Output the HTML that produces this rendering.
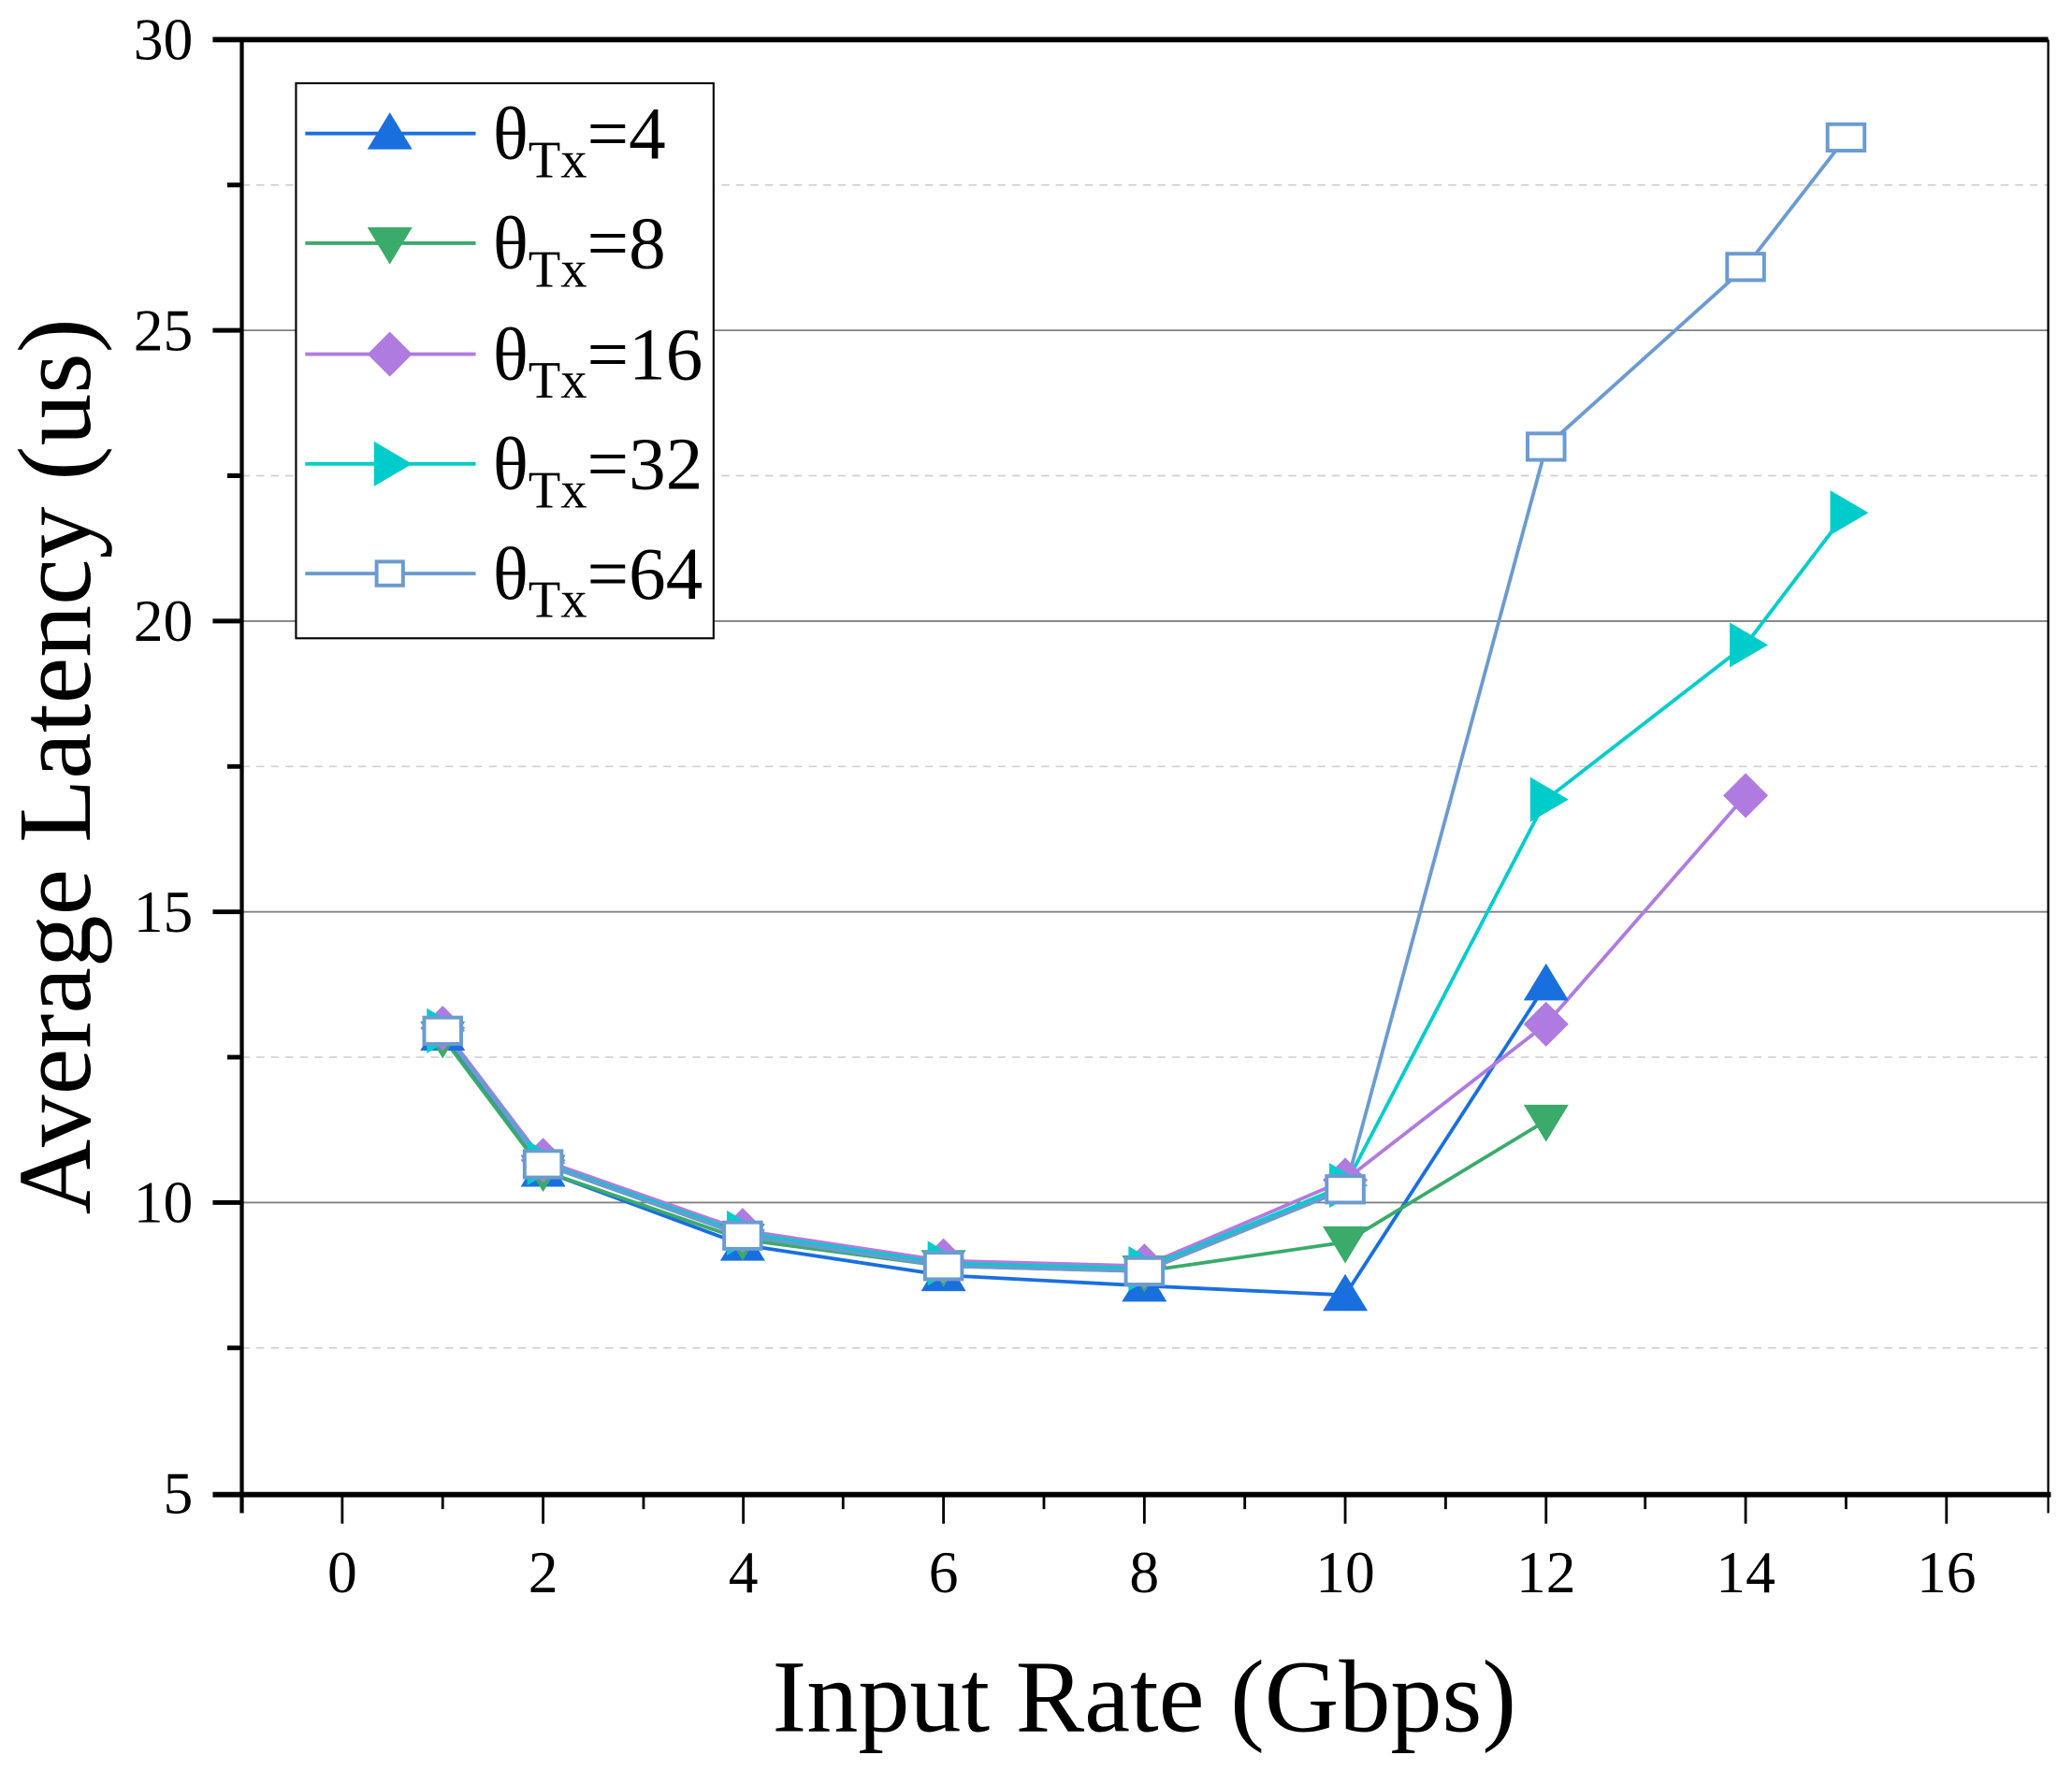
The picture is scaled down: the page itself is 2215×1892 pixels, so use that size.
<!DOCTYPE html>
<html><head><meta charset="utf-8"><style>
html,body{margin:0;padding:0;background:#fff;}
svg{display:block;}
text{font-family:"Liberation Serif",serif;fill:#000;}
</style></head><body>
<svg width="2215" height="1892" viewBox="0 0 1568 1339.4" preserveAspectRatio="none" xmlns="http://www.w3.org/2000/svg">
<defs>
<path id="tu" d="M0,-16 L17,12 L-17,12 Z"/>
<path id="td" d="M0,16 L17,-12 L-17,-12 Z"/>
<path id="dm" d="M0,-17 L17,0 L0,17 L-17,0 Z"/>
<path id="tr" d="M17,0 L-12,-17 L-12,17 Z"/>
<rect id="sq" x="-14" y="-10" width="28" height="20" fill="#fff" stroke="#6b9bd0" stroke-width="2.8"/>
</defs>
<g stroke="#d0d0d0" stroke-width="1.2" stroke-dasharray="6,5">
<line x1="183" x2="1550" y1="140" y2="140"/>
<line x1="183" x2="1550" y1="360" y2="360"/>
<line x1="183" x2="1550" y1="580" y2="580"/>
<line x1="183" x2="1550" y1="800" y2="800"/>
<line x1="183" x2="1550" y1="1020" y2="1020"/>
</g>
<g stroke="#808080" stroke-width="1.3">
<line x1="183" x2="1550" y1="250" y2="250"/>
<line x1="183" x2="1550" y1="470" y2="470"/>
<line x1="183" x2="1550" y1="690" y2="690"/>
<line x1="183" x2="1550" y1="910" y2="910"/>
</g>
<line x1="161" x2="1550" y1="30" y2="30" stroke="#000" stroke-width="4"/>
<line x1="161" x2="1552" y1="1131" y2="1131" stroke="#000" stroke-width="4"/>
<line x1="183" x2="183" y1="30" y2="1145" stroke="#000" stroke-width="3"/>
<line x1="1550" x2="1550" y1="30" y2="1145" stroke="#000" stroke-width="1.6"/>
<g stroke="#000" stroke-width="3.5">
<line x1="161" x2="183" y1="250" y2="250"/><line x1="161" x2="183" y1="470" y2="470"/>
<line x1="161" x2="183" y1="690" y2="690"/><line x1="161" x2="183" y1="910" y2="910"/>
<line x1="172" x2="183" y1="140" y2="140"/><line x1="172" x2="183" y1="360" y2="360"/>
<line x1="172" x2="183" y1="580" y2="580"/><line x1="172" x2="183" y1="800" y2="800"/>
<line x1="172" x2="183" y1="1020" y2="1020"/>
</g>
<g stroke="#000" stroke-width="2">
<line x1="259" x2="259" y1="1131" y2="1153"/><line x1="411" x2="411" y1="1131" y2="1153"/>
<line x1="562.5" x2="562.5" y1="1131" y2="1153"/><line x1="714" x2="714" y1="1131" y2="1153"/>
<line x1="866" x2="866" y1="1131" y2="1153"/><line x1="1018" x2="1018" y1="1131" y2="1153"/>
<line x1="1170" x2="1170" y1="1131" y2="1153"/><line x1="1321" x2="1321" y1="1131" y2="1153"/>
<line x1="1473" x2="1473" y1="1131" y2="1153"/>
<line x1="335" x2="335" y1="1131" y2="1142"/><line x1="487" x2="487" y1="1131" y2="1142"/>
<line x1="638" x2="638" y1="1131" y2="1142"/><line x1="790" x2="790" y1="1131" y2="1142"/>
<line x1="942" x2="942" y1="1131" y2="1142"/><line x1="1094" x2="1094" y1="1131" y2="1142"/>
<line x1="1245" x2="1245" y1="1131" y2="1142"/><line x1="1397" x2="1397" y1="1131" y2="1142"/>
</g>
<g font-size="45" text-anchor="end">
<text x="146" y="45">30</text><text x="146" y="265">25</text><text x="146" y="485">20</text>
<text x="146" y="705">15</text><text x="146" y="925">10</text><text x="146" y="1145">5</text>
</g>
<g font-size="45" text-anchor="middle">
<text x="259" y="1205">0</text><text x="411" y="1205">2</text><text x="562.5" y="1205">4</text>
<text x="714" y="1205">6</text><text x="866" y="1205">8</text><text x="1018" y="1205">10</text>
<text x="1170" y="1205">12</text><text x="1321" y="1205">14</text><text x="1473" y="1205">16</text>
</g>
<text x="866" y="1310" font-size="78" text-anchor="middle">Input Rate (Gbps)</text>
<text transform="translate(68,580) rotate(-90)" font-size="79" text-anchor="middle">Average Latency (us)</text>
<g fill="none" stroke-width="2.7" stroke-linejoin="round">
<polyline stroke="#1a6fdf" points="335,783 411,886 562,942 714,965 866,973 1018,980 1170,745"/>
<polyline stroke="#3aab6a" points="335,785 411,886 562,938 714,958 866,962 1018,940 1170,848"/>
<polyline stroke="#b07be0" points="335,778 411,878 562,931 714,954 866,958 1018,893 1170,775 1321,602"/>
<polyline stroke="#00cccc" points="335,780 411,880 562,933 714,956 866,960 1018,897 1170,605 1321,488 1397,388"/>
<polyline stroke="#6b9bd0" points="335,780 411,881 562,935 714,958 866,962 1018,900 1170,338 1321,202 1397,104"/>
</g>
<g fill="#1a6fdf">
<use href="#tu" x="335" y="783"/><use href="#tu" x="411" y="886"/><use href="#tu" x="562" y="942"/>
<use href="#tu" x="714" y="965"/><use href="#tu" x="866" y="973"/><use href="#tu" x="1018" y="980"/><use href="#tu" x="1170" y="745"/>
</g>
<g fill="#3aab6a">
<use href="#td" x="335" y="785"/><use href="#td" x="411" y="886"/><use href="#td" x="562" y="938"/>
<use href="#td" x="714" y="958"/><use href="#td" x="866" y="962"/><use href="#td" x="1018" y="940"/><use href="#td" x="1170" y="848"/>
</g>
<g fill="#b07be0">
<use href="#dm" x="335" y="778"/><use href="#dm" x="411" y="878"/><use href="#dm" x="562" y="931"/>
<use href="#dm" x="714" y="954"/><use href="#dm" x="866" y="958"/><use href="#dm" x="1018" y="893"/><use href="#dm" x="1170" y="775"/><use href="#dm" x="1321" y="602"/>
</g>
<g fill="#00cccc">
<use href="#tr" x="335" y="780"/><use href="#tr" x="411" y="880"/><use href="#tr" x="562" y="933"/>
<use href="#tr" x="714" y="956"/><use href="#tr" x="866" y="960"/><use href="#tr" x="1018" y="897"/><use href="#tr" x="1170" y="605"/><use href="#tr" x="1321" y="488"/><use href="#tr" x="1397" y="388"/>
</g>
<g>
<use href="#sq" x="335" y="780"/><use href="#sq" x="411" y="881"/><use href="#sq" x="562" y="935"/>
<use href="#sq" x="714" y="958"/><use href="#sq" x="866" y="962"/><use href="#sq" x="1018" y="900"/><use href="#sq" x="1170" y="338"/><use href="#sq" x="1321" y="202"/><use href="#sq" x="1397" y="104"/>
</g>
<rect x="224" y="63" width="316" height="420" fill="#fff" stroke="#000" stroke-width="1.5"/>
<g stroke-width="2.7">
<line x1="231" x2="360" y1="101" y2="101" stroke="#1a6fdf"/>
<line x1="231" x2="360" y1="184" y2="184" stroke="#3aab6a"/>
<line x1="231" x2="360" y1="268" y2="268" stroke="#b07be0"/>
<line x1="231" x2="360" y1="351" y2="351" stroke="#00cccc"/>
<line x1="231" x2="360" y1="434" y2="434" stroke="#6b9bd0"/>
</g>
<use href="#tu" x="295" y="101" fill="#1a6fdf"/>
<use href="#td" x="295" y="184" fill="#3aab6a"/>
<use href="#dm" x="295" y="268" fill="#b07be0"/>
<use href="#tr" x="295" y="351" fill="#00cccc"/>
<rect x="285" y="425" width="20" height="18" fill="#fff" stroke="#6b9bd0" stroke-width="2.8"/>
<g font-size="56">
<text x="373" y="120">θ<tspan font-size="40" dy="14">Tx</tspan><tspan dy="-14">=4</tspan></text>
<text x="373" y="203">θ<tspan font-size="40" dy="14">Tx</tspan><tspan dy="-14">=8</tspan></text>
<text x="373" y="287">θ<tspan font-size="40" dy="14">Tx</tspan><tspan dy="-14">=16</tspan></text>
<text x="373" y="370">θ<tspan font-size="40" dy="14">Tx</tspan><tspan dy="-14">=32</tspan></text>
<text x="373" y="453">θ<tspan font-size="40" dy="14">Tx</tspan><tspan dy="-14">=64</tspan></text>
</g>
</svg>
</body></html>
